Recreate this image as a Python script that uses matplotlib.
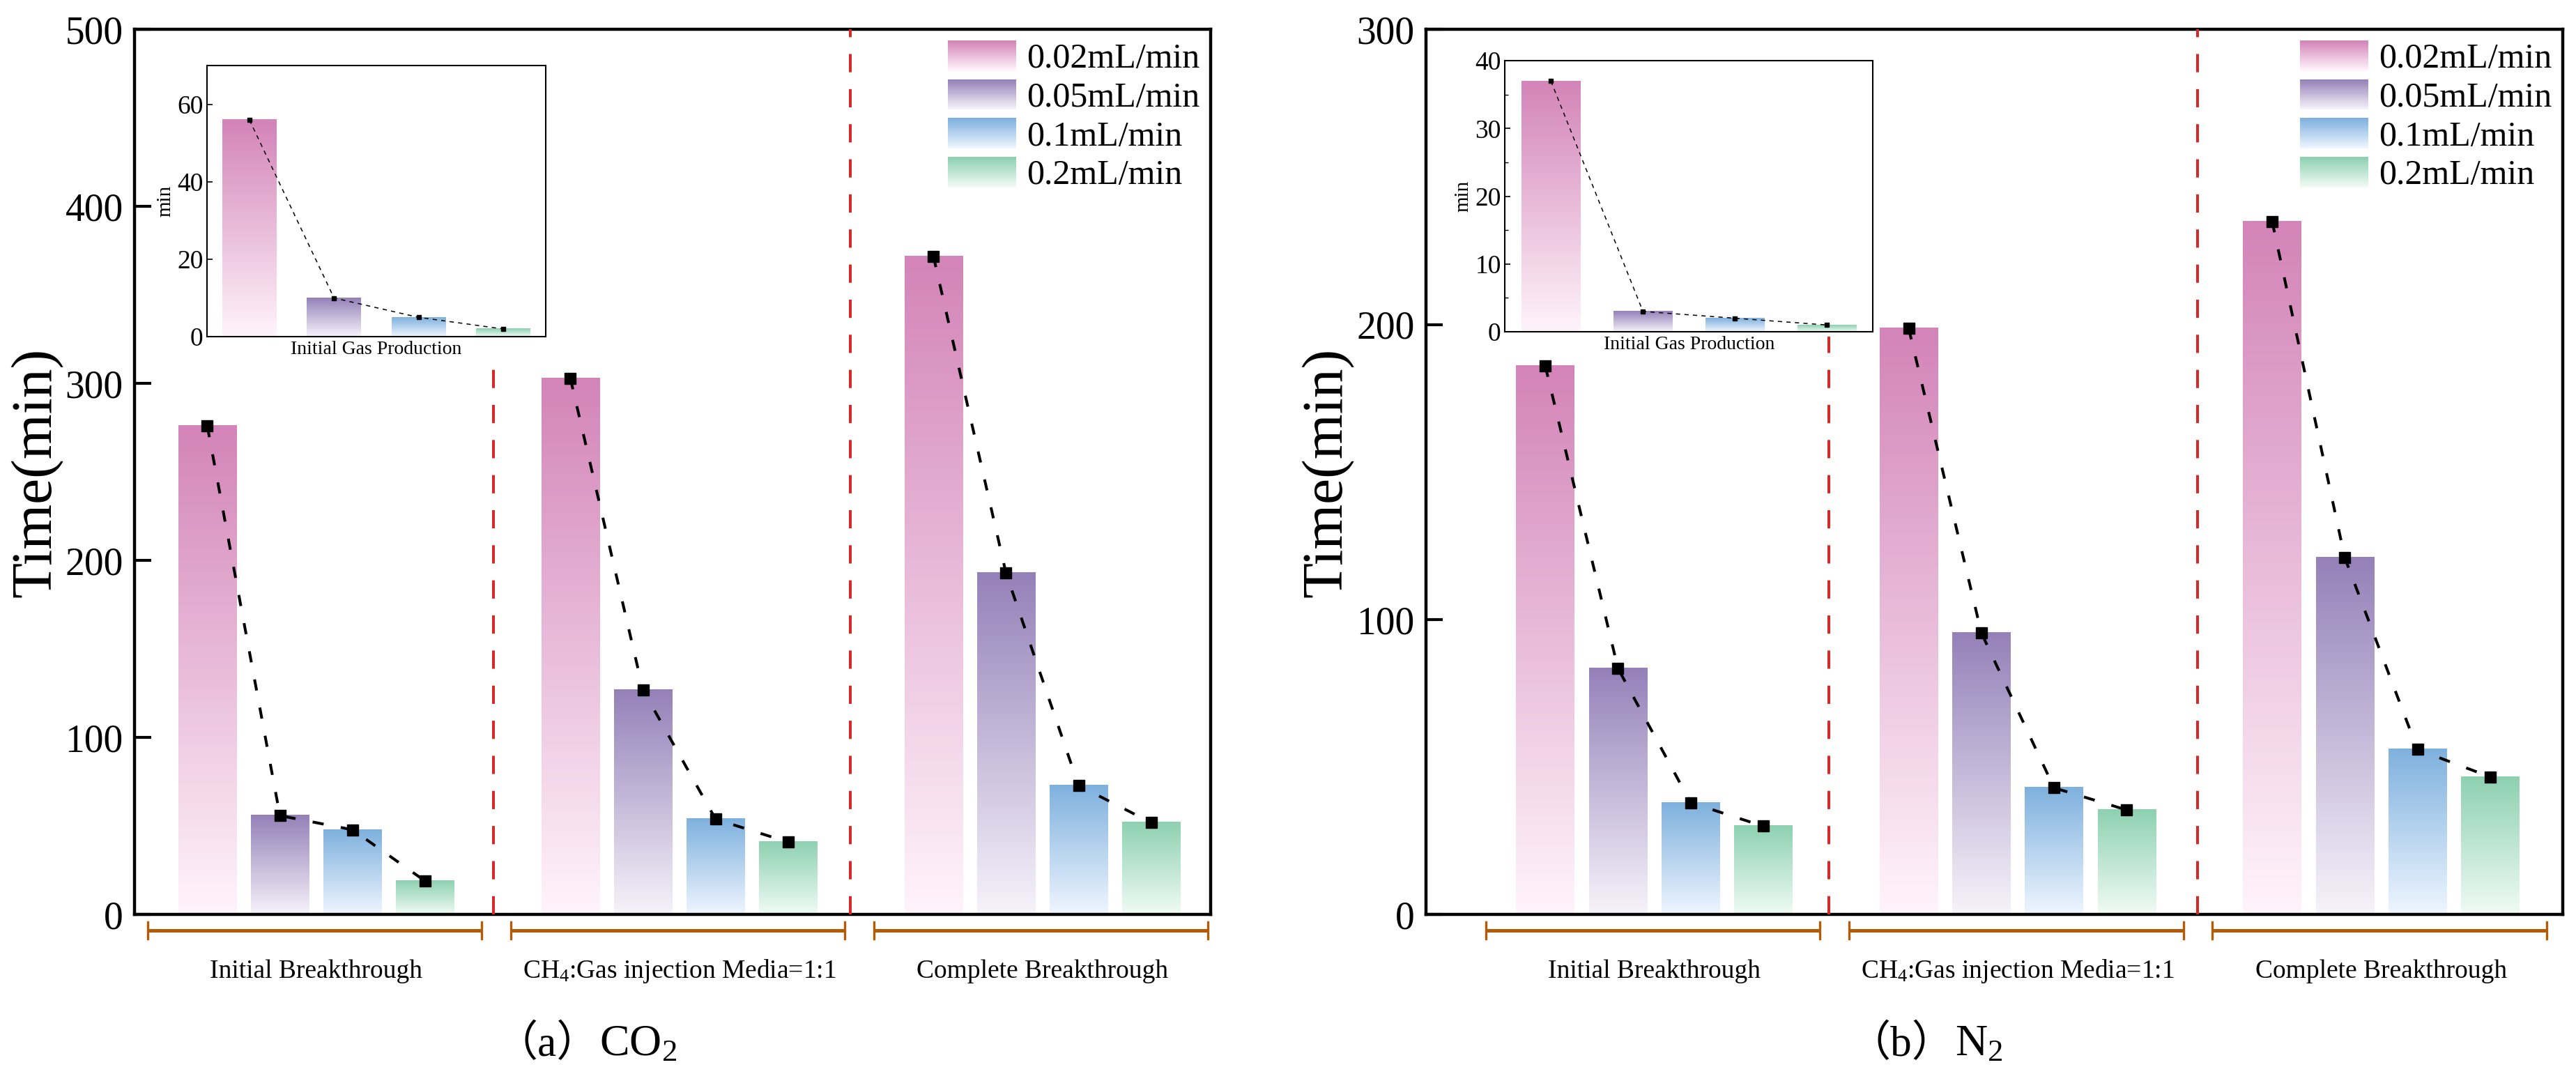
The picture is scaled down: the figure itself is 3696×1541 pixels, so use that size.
import numpy as np
import matplotlib
matplotlib.use("Agg")
import matplotlib.pyplot as plt
from matplotlib.colors import LinearSegmentedColormap, to_rgb
from matplotlib.patches import Patch, Rectangle
from matplotlib.legend_handler import HandlerBase
import matplotlib.transforms as mtransforms

plt.rcParams['font.family'] = ['Liberation Serif', 'Noto Sans CJK SC']
plt.rcParams['mathtext.fontset'] = 'custom'
plt.rcParams['mathtext.rm'] = 'Liberation Serif'
plt.rcParams['mathtext.it'] = 'Liberation Serif:italic'

# ---- data ----
rates = ['0.02mL/min', '0.05mL/min', '0.1mL/min', '0.2mL/min']
stages = ['Initial Breakthrough', 'CH$_4$:Gas injection Media=1:1', 'Complete Breakthrough']
inset_label = 'Initial Gas Production'

co2_initial = [276, 56, 48, 19]
co2_media = [303, 127, 54, 41]
co2_complete = [372, 193, 73, 52]
co2_gas = [56, 10, 5, 2]

n2_initial = [186, 83.5, 38, 30]
n2_media = [198.7, 95.5, 43, 35.5]
n2_complete = [235, 121, 56, 46.7]
n2_gas = [37, 3, 2, 1]

top_colors = ['#D384B8', '#9581B9', '#7FB1DE', '#8ED1B1']
bottom_colors = ['#FFF4FB', '#F6F3FA', '#EFF6FF', '#F0FBF6']
red = '#D42A2A'
brown = '#B25C0A'


def gradient_bars(ax, x, h, width, z=2):
    bars = ax.bar(x, h, width, color='none', edgecolor='none', zorder=z)
    grad = np.linspace(0, 1, 200)[:, None]
    for i, b in enumerate(bars):
        k = i % 4
        cmap = LinearSegmentedColormap.from_list('g%d' % k, [bottom_colors[k], top_colors[k]])
        ax.imshow(grad, cmap=cmap, origin='lower', aspect='auto', zorder=z,
                  extent=[b.get_x(), b.get_x() + b.get_width(), 0, b.get_height()])
    return bars


class GradientHandler(HandlerBase):
    def __init__(self, top, bottom, n=40):
        super().__init__()
        self.top, self.bottom, self.n = to_rgb(top), to_rgb(bottom), n

    def create_artists(self, legend, orig_handle, xdescent, ydescent, width, height, fontsize, trans):
        arts = []
        for i in range(self.n):
            f = i / (self.n - 1)
            c = [self.bottom[j] + (self.top[j] - self.bottom[j]) * f for j in range(3)]
            r = Rectangle((-xdescent, -ydescent + height * i / self.n), width, height / self.n + 0.3,
                          facecolor=c, edgecolor='none', transform=trans)
            arts.append(r)
        return arts


def panel(fig, rect, inset_rect, groups, gas, ymax, xlim, red_x, red_top, caption_a, caption_b, split):
    ax = fig.add_axes(rect)
    for g, vals in enumerate(groups):
        pos = [g * 5 + i for i in range(4)]
        gradient_bars(ax, pos, vals, 0.8)
        ax.plot(pos, vals, color='black', lw=2.9, ls=(0, (4, 6.2)), marker='s', ms=11, zorder=4)
    # red separators
    ax.plot([red_x[0], red_x[0]], [0, red_top], color=red, lw=2.9, ls=(0, (6.5, 6)), zorder=3)
    ax.plot([red_x[1], red_x[1]], [0, ymax], color=red, lw=2.9, ls=(0, (6.5, 6)), zorder=3)
    ax.set_xlim(*xlim)
    ax.set_ylim(0, ymax)
    ax.set_yticks(np.arange(0, ymax + 1, 100))
    ax.set_xticks([])
    ax.tick_params(axis='y', direction='in', length=17, width=3, labelsize=40, pad=12)
    for s in ax.spines.values():
        s.set_linewidth(3.2)
    ax.set_ylabel('Time(min)', fontsize=60, labelpad=2)

    # brackets below each group
    tr = mtransforms.blended_transform_factory(ax.transData, ax.transAxes)
    for g, name in enumerate(stages):
        x0, x1 = g * 5 - 0.82, g * 5 + 3.78
        ax.plot([x0, x1], [-0.0176, -0.0176], color=brown, lw=3.6, transform=tr, clip_on=False,
                solid_capstyle='butt')
        for xx in (x0, x1):
            ax.plot([xx, xx], [-0.0176 - 0.0095, -0.0176 + 0.0095], color=brown, lw=2.4,
                    transform=tr, clip_on=False)
        ax.text(g * 5 + 1.5, -0.064, name, transform=tr, ha='center', va='center', fontsize=27)

    ax.text(split, -0.147, caption_a, transform=ax.transAxes, ha='right', va='center', fontsize=44,
            family=['Liberation Serif', 'Noto Sans CJK SC'])
    ax.text(split, -0.147, caption_b, transform=ax.transAxes, ha='left', va='center', fontsize=46)

    handles = [Patch(label=r) for r in rates]
    hmap = {h: GradientHandler(top_colors[i], bottom_colors[i]) for i, h in enumerate(handles)}
    ax.legend(handles=handles, handler_map=hmap, loc='upper right', frameon=False, fontsize=36,
              handlelength=1.95, handleheight=0.95, labelspacing=0.12, handletextpad=0.3,
              borderaxespad=0.12, borderpad=0.2, bbox_to_anchor=(1.0, 1.0))

    # inset
    ins = fig.add_axes(inset_rect)
    ipos = list(range(4))
    gradient_bars(ins, ipos, gas, 0.64, z=2)
    ins.plot(ipos, gas, color='black', lw=1.1, ls=(0, (4, 4)), marker='s', ms=5, zorder=4)
    ins.set_xlim(-0.5, 3.5)
    ins.set_xticks([])
    ins.set_xlabel(inset_label, fontsize=20, labelpad=4)
    ins.set_ylabel('min', fontsize=21, labelpad=3)
    for s in ins.spines.values():
        s.set_linewidth(1.5)
    return ax, ins


fig = plt.figure(figsize=(36.96, 15.41), dpi=100)

ax1, ins1 = panel(fig, [0.0523, 0.1483, 0.4177, 0.8242], [0.0804, 0.6865, 0.1314, 0.2523],
                  [co2_initial, co2_media, co2_complete], co2_gas, 500, (-1.0, 13.82), (3.94, 8.86), 308,
                  '（a）', 'CO$_2$', 0.432)
ins1.set_ylim(0, 70)
ins1.set_yticks([0, 20, 40, 60])
ins1.tick_params(axis='y', direction='in', length=6, width=1.2, labelsize=27, pad=4)

ax2, ins2 = panel(fig, [0.5536, 0.1483, 0.4413, 0.8242], [0.5842, 0.6911, 0.1429, 0.2523],
                  [n2_initial, n2_media, n2_complete], n2_gas, 300, (-1.64, 14.0), (3.9, 8.97), 196,
                  '（b）', 'N$_2$', 0.465)
ins2.set_ylim(0, 40)
ins2.set_yticks([0, 10, 20, 30, 40])
ins2.set_yticks([5, 15, 25, 35], minor=True)
ins2.tick_params(axis='y', which='major', direction='in', length=6, width=1.2, labelsize=27, pad=4)
ins2.tick_params(axis='y', which='minor', direction='in', length=3.5, width=1.0)

fig.savefig('out.png', dpi=100)
